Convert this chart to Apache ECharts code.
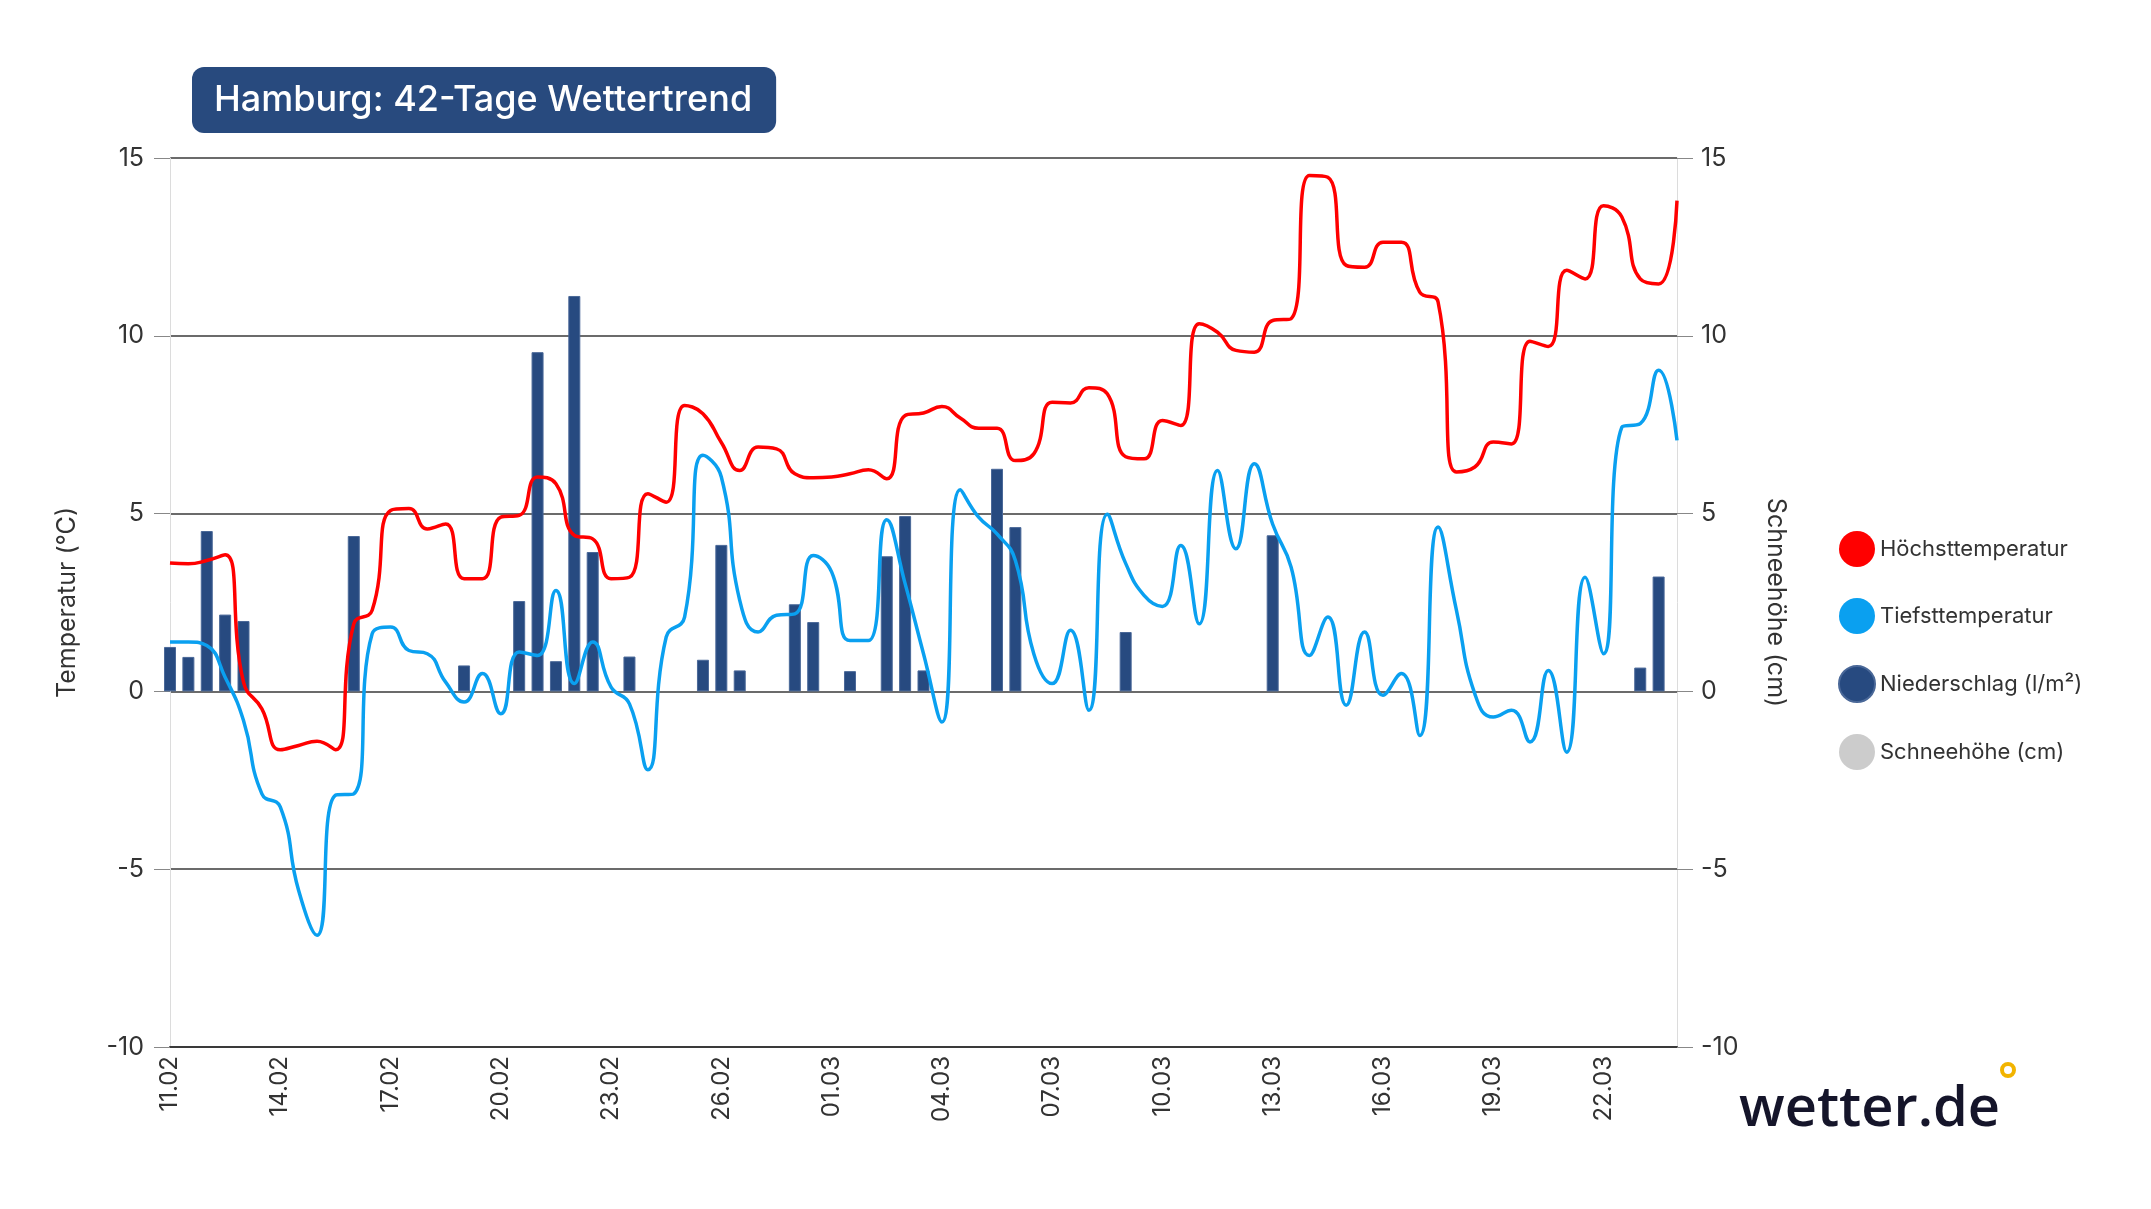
<!DOCTYPE html>
<html>
<head>
<meta charset="utf-8">
<script src="https://cdn.jsdelivr.net/npm/echarts@6/dist/echarts.min.js"></script>
<style>
html,body{margin:0;padding:0;background:#fff;}
#chart{width:2151px;height:1209px;}
</style>
</head>
<body>
<div id="chart"></div>
<script>
// Half-day steps starting 11.02 00:00 (x = day index)
const stepDays = 0.5;
const tickLabels = ['11.02','14.02','17.02','20.02','23.02','26.02','01.03','04.03','07.03','10.03','13.03','16.03','19.03','22.03'];
const tickEveryDays = 3;

const hoechst = [3.61,3.59,3.68,3.84,0.26,-0.49,-1.64,-1.52,-1.40,-1.64,1.90,2.28,5.09,5.14,4.57,4.71,3.17,3.17,4.90,4.95,
  6.03,5.84,4.39,4.29,3.17,3.21,5.56,5.32,8.04,7.81,7.00,6.21,6.87,6.82,6.12,6.01,6.03,6.12,6.23,5.98,
  7.76,7.83,8.01,7.69,7.40,7.40,6.49,6.68,8.13,8.11,8.54,8.37,6.60,6.54,7.62,7.48,10.34,10.10,9.59,9.54,
  10.43,10.48,14.51,14.46,11.98,11.93,12.63,12.63,11.23,10.95,6.17,6.31,7.01,6.96,9.85,9.70,11.84,11.60,13.66,13.34,
  11.60,11.46,13.80];

const tiefst = [1.39,1.39,1.29,0.40,-0.82,-2.88,-3.25,-5.60,-6.86,-2.92,-2.88,1.62,1.81,1.15,1.06,0.26,-0.30,0.50,-0.63,1.11,
  1.01,2.84,0.22,1.39,0.12,-0.35,-2.20,1.53,2.09,6.64,6.03,2.56,1.67,2.14,2.18,3.82,3.36,1.43,1.43,4.83,
  3.03,1.06,-0.86,5.67,4.90,4.43,3.68,1.06,0.22,1.72,-0.53,4.98,3.60,2.70,2.39,4.10,1.90,6.21,4.01,6.40,
  4.70,3.50,1.01,2.09,-0.39,1.67,-0.11,0.50,-1.24,4.62,2.28,-0.07,-0.72,-0.53,-1.42,0.59,-1.71,3.21,1.06,7.43,
  7.53,9.03,7.06];

const niederschlag = [1.25,0.97,4.51,2.16,1.98,0,0,0,0,0, 4.37,0,0,0,0,0,0.73,0,0,2.54,
  9.54,0.85,11.12,3.92,0,0.98,0,0,0,0.89, 4.12,0.59,0,0,2.45,1.95,0,0.57,0,3.80,
  4.93,0.59,0,0,0,6.26,4.62,0,0,0, 0,0,1.67,0,0,0,0,0,0,0,
  4.39,0,0,0,0,0,0,0,0,0, 0,0,0,0,0,0,0,0,0,0,
  0.67,3.23,0];

const schneehoehe = [];

const toPairs = arr => arr.map((v, i) => [i * stepDays, v]);
const barPairs = niederschlag.map((v, i) => [i * stepDays, v]).filter(p => p[1] > 0);

const FONT = 'Inter';
const chart = echarts.init(document.getElementById('chart'), null, {renderer: 'canvas'});
chart.setOption({
  backgroundColor: '#ffffff',
  animation: false,
  title: {
    text: 'Hamburg: 42-Tage Wettertrend',
    left: 192, top: 67,
    backgroundColor: '#284a7e',
    borderRadius: 12,
    padding: [15, 24, 15, 22],
    textStyle: {color: '#ffffff', fontFamily: FONT, fontSize: 36, fontWeight: 500, lineHeight: 36}
  },
  legend: {
    orient: 'vertical',
    left: 1833, top: 526,
    itemWidth: 36, itemHeight: 36, itemGap: 31,
    icon: 'circle',
    data: ['Höchsttemperatur', 'Tiefsttemperatur', 'Niederschlag (l/m²)', 'Schneehöhe (cm)'],
    textStyle: {fontFamily: FONT, fontSize: 22, color: '#333'}
  },
  grid: {left: 170, right: 474, top: 158, bottom: 162, containLabel: false},
  xAxis: {
    type: 'value', min: 0, max: 41, interval: tickEveryDays,
    axisLine: {show: true, onZero: false, lineStyle: {color: '#3a3a3a', width: 2}},
    axisTick: {show: false},
    splitLine: {show: false},
    axisLabel: {
      rotate: 90, margin: 9, fontFamily: FONT, fontSize: 24, color: '#333',
      formatter: v => (v % tickEveryDays === 0 && tickLabels[v / tickEveryDays]) ? tickLabels[v / tickEveryDays] : ''
    }
  },
  yAxis: [
    {
      type: 'value', min: -10, max: 15, interval: 5, position: 'left',
      name: 'Temperatur (°C)', nameLocation: 'middle', nameGap: 90, nameRotate: 90,
      nameTextStyle: {fontFamily: FONT, fontSize: 25, color: '#333'},
      axisLine: {show: true, lineStyle: {color: '#dcdcdc', width: 1}},
      axisTick: {show: true, length: 16, lineStyle: {color: '#888'}},
      splitLine: {show: true, lineStyle: {color: '#3a3a3a', width: 1.6}},
      axisLabel: {margin: 26, fontFamily: FONT, fontSize: 25, color: '#333'}
    },
    {
      type: 'value', min: -10, max: 15, interval: 5, position: 'right',
      name: 'Schneehöhe (cm)', nameLocation: 'middle', nameGap: 86, nameRotate: -90,
      nameTextStyle: {fontFamily: FONT, fontSize: 25, color: '#333'},
      axisLine: {show: true, lineStyle: {color: '#dcdcdc', width: 1}},
      axisTick: {show: true, length: 16, lineStyle: {color: '#888'}},
      splitLine: {show: false},
      axisLabel: {margin: 24, fontFamily: FONT, fontSize: 25, color: '#333'}
    }
  ],
  series: [
    {
      name: 'Niederschlag (l/m²)', type: 'bar', yAxisIndex: 0, z: 1,
      barWidth: 12, clip: true,
      itemStyle: {color: '#274a80', borderColor: '#4a6898', borderWidth: 1},
      data: barPairs
    },
    {
      name: 'Schneehöhe (cm)', type: 'line', yAxisIndex: 1, z: 2,
      showSymbol: false, itemStyle: {color: '#cccccc', borderColor: '#b8b8b8'},
      data: schneehoehe
    },
    {
      name: 'Tiefsttemperatur', type: 'line', yAxisIndex: 0, z: 3,
      showSymbol: false, smooth: 0.5,
      itemStyle: {color: '#0aa0f0'},
      lineStyle: {color: '#0aa0f0', width: 3.5},
      data: toPairs(tiefst)
    },
    {
      name: 'Höchsttemperatur', type: 'line', yAxisIndex: 0, z: 4,
      showSymbol: false, smooth: 0.5,
      itemStyle: {color: '#ff0000'},
      lineStyle: {color: '#ff0000', width: 3.5},
      data: toPairs(hoechst)
    }
  ],
  graphic: [
    {type: 'text', left: 1739, top: 1082, style: {text: 'wetter.de', fontFamily: 'Open Sans', fontSize: 56, fontWeight: 600, fill: '#15152a'}},
    {type: 'circle', shape: {cx: 2008, cy: 1070, r: 6}, style: {fill: 'none', stroke: '#f2b400', lineWidth: 4}}
  ]
});
</script>
</body>
</html>
